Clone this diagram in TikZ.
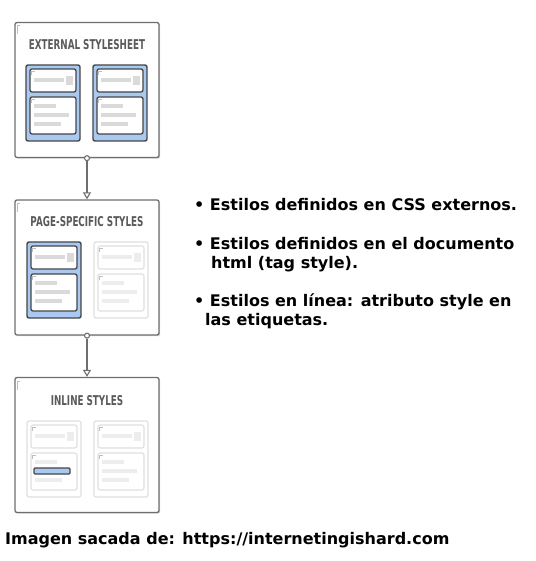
\documentclass[tikz,border=0pt]{standalone}
\usepackage{fontspec}
\setmainfont{DejaVu Sans}
\newfontfamily\titlefont{DejaVu Sans}[FakeStretch=0.65]
\usepackage{tikz}
\usetikzlibrary{arrows.meta}
\usetikzlibrary{shadows}

\definecolor{edgegray}{HTML}{6E6E6E}
\definecolor{carddark}{HTML}{454545}
\definecolor{panelblue}{HTML}{A9C9F1}
\definecolor{bargray}{HTML}{DADADA}
\definecolor{fadeedge}{HTML}{E0E0E0}
\definecolor{fadebar}{HTML}{EDEDED}
\definecolor{titlegray}{HTML}{5A5A5A}

\tikzset{
  stylebox/.style={draw=edgegray, line width=1.3pt, rounded corners=2pt, fill=white,
    minimum width=144pt, minimum height=135pt, inner sep=0pt,
    drop shadow={shadow xshift=1.2pt, shadow yshift=-1.2pt, fill=black!25, opacity=0.6}},
  boxtitle/.style={font=\titlefont\bfseries\fontsize{13.5}{14}\selectfont, text=titlegray},
  paneron/.style={draw=carddark, line width=1.4pt, rounded corners=2pt, fill=panelblue},
  paneroff/.style={draw=fadeedge, line width=1.2pt, rounded corners=2pt, fill=white},
  cardon/.style={draw=carddark, line width=1.3pt, rounded corners=2pt, fill=white},
  cardoff/.style={draw=fadeedge, line width=1.1pt, rounded corners=2pt, fill=white},
  joint/.style={circle, draw=edgegray, line width=1.1pt, fill=white, minimum size=5pt, inner sep=0pt},
  flow/.style={draw=edgegray, line width=1.1pt, -{Triangle[open, length=7pt, width=8pt]}},
  bullettxt/.style={anchor=base west, inner sep=0pt, font=\bfseries\fontsize{16}{18}\selectfont},
  corner/.style={draw=black!25, line width=0.8pt}
}

% x, y, panel style, card style, bar colour
\newcommand{\stylepanel}[5]{
  \begin{scope}[shift={(#1,#2)}]
    \draw[#3] (0,0) rectangle (54,76);
    \draw[#4] (4,4) rectangle (50,27);
    \fill[#5] (8,13) rectangle (38,17);
    \fill[#5] (40,11) rectangle (47,20);
    \draw[#4] (4,32) rectangle (50,69);
    \fill[#5] (8,39) rectangle (30,43);
    \fill[#5] (8,48) rectangle (43,52);
    \fill[#5] (8,57) rectangle (35,61);
    \draw[corner] (8.5,6) -- (5.5,6) -- (5.5,10);
    \draw[corner] (8.5,34) -- (5.5,34) -- (5.5,38);
  \end{scope}
}

\begin{document}
\begin{tikzpicture}[x=1pt, y=-1pt]
  \useasboundingbox (0,0) rectangle (535,561);

  \node[stylebox] (ext) at (87,90) {};
  \node[stylebox] (page) at (87,267.5) {};
  \node[stylebox] (inl) at (87,445) {};

  \draw[corner] (20,25) -- (17,25) -- (17,34);
  \draw[corner] (20,203) -- (17,203) -- (17,212);
  \draw[corner] (20,381) -- (17,381) -- (17,390);

  \node[boxtitle] (exttitle) at (87,45) {EXTERNAL STYLESHEET};
  \node[boxtitle] (pagetitle) at (87,222) {PAGE-SPECIFIC STYLES};
  \node[boxtitle] (inltitle) at (87,401) {INLINE STYLES};

  \stylepanel{26}{65}{paneron}{cardon}{bargray}
  \stylepanel{93}{65}{paneron}{cardon}{bargray}
  \stylepanel{27}{242}{paneron}{cardon}{bargray}
  \stylepanel{94}{242}{paneroff}{cardoff}{fadebar}
  \stylepanel{27}{421}{paneroff}{cardoff}{fadebar}
  \stylepanel{94}{421}{paneroff}{cardoff}{fadebar}
  \draw[draw=carddark, line width=1.2pt, fill=panelblue, rounded corners=1pt] (34,468) rectangle (70,474);

  \node[joint] (j1) at (ext.south) {};
  \node[joint] (j2) at (page.south) {};
  \draw[flow] (j1) -- (page.north);
  \draw[flow] (j2) -- (inl.north);

  \node[bullettxt] (b1) at (194,211) {• Estilos definidos en CSS externos.};
  \node[bullettxt] (b2) at (194,249) {• Estilos definidos en el documento};
  \node[bullettxt] (b2b) at (211,268) {html (tag style).};
  \node[bullettxt] (b3) at (194,306) {• Estilos en línea: atributo style en};
  \node[bullettxt] (b3b) at (205,325) {las etiquetas.};

  \node[bullettxt] (src) at (5,544) {Imagen sacada de: https://internetingishard.com};
\end{tikzpicture}
\end{document}
